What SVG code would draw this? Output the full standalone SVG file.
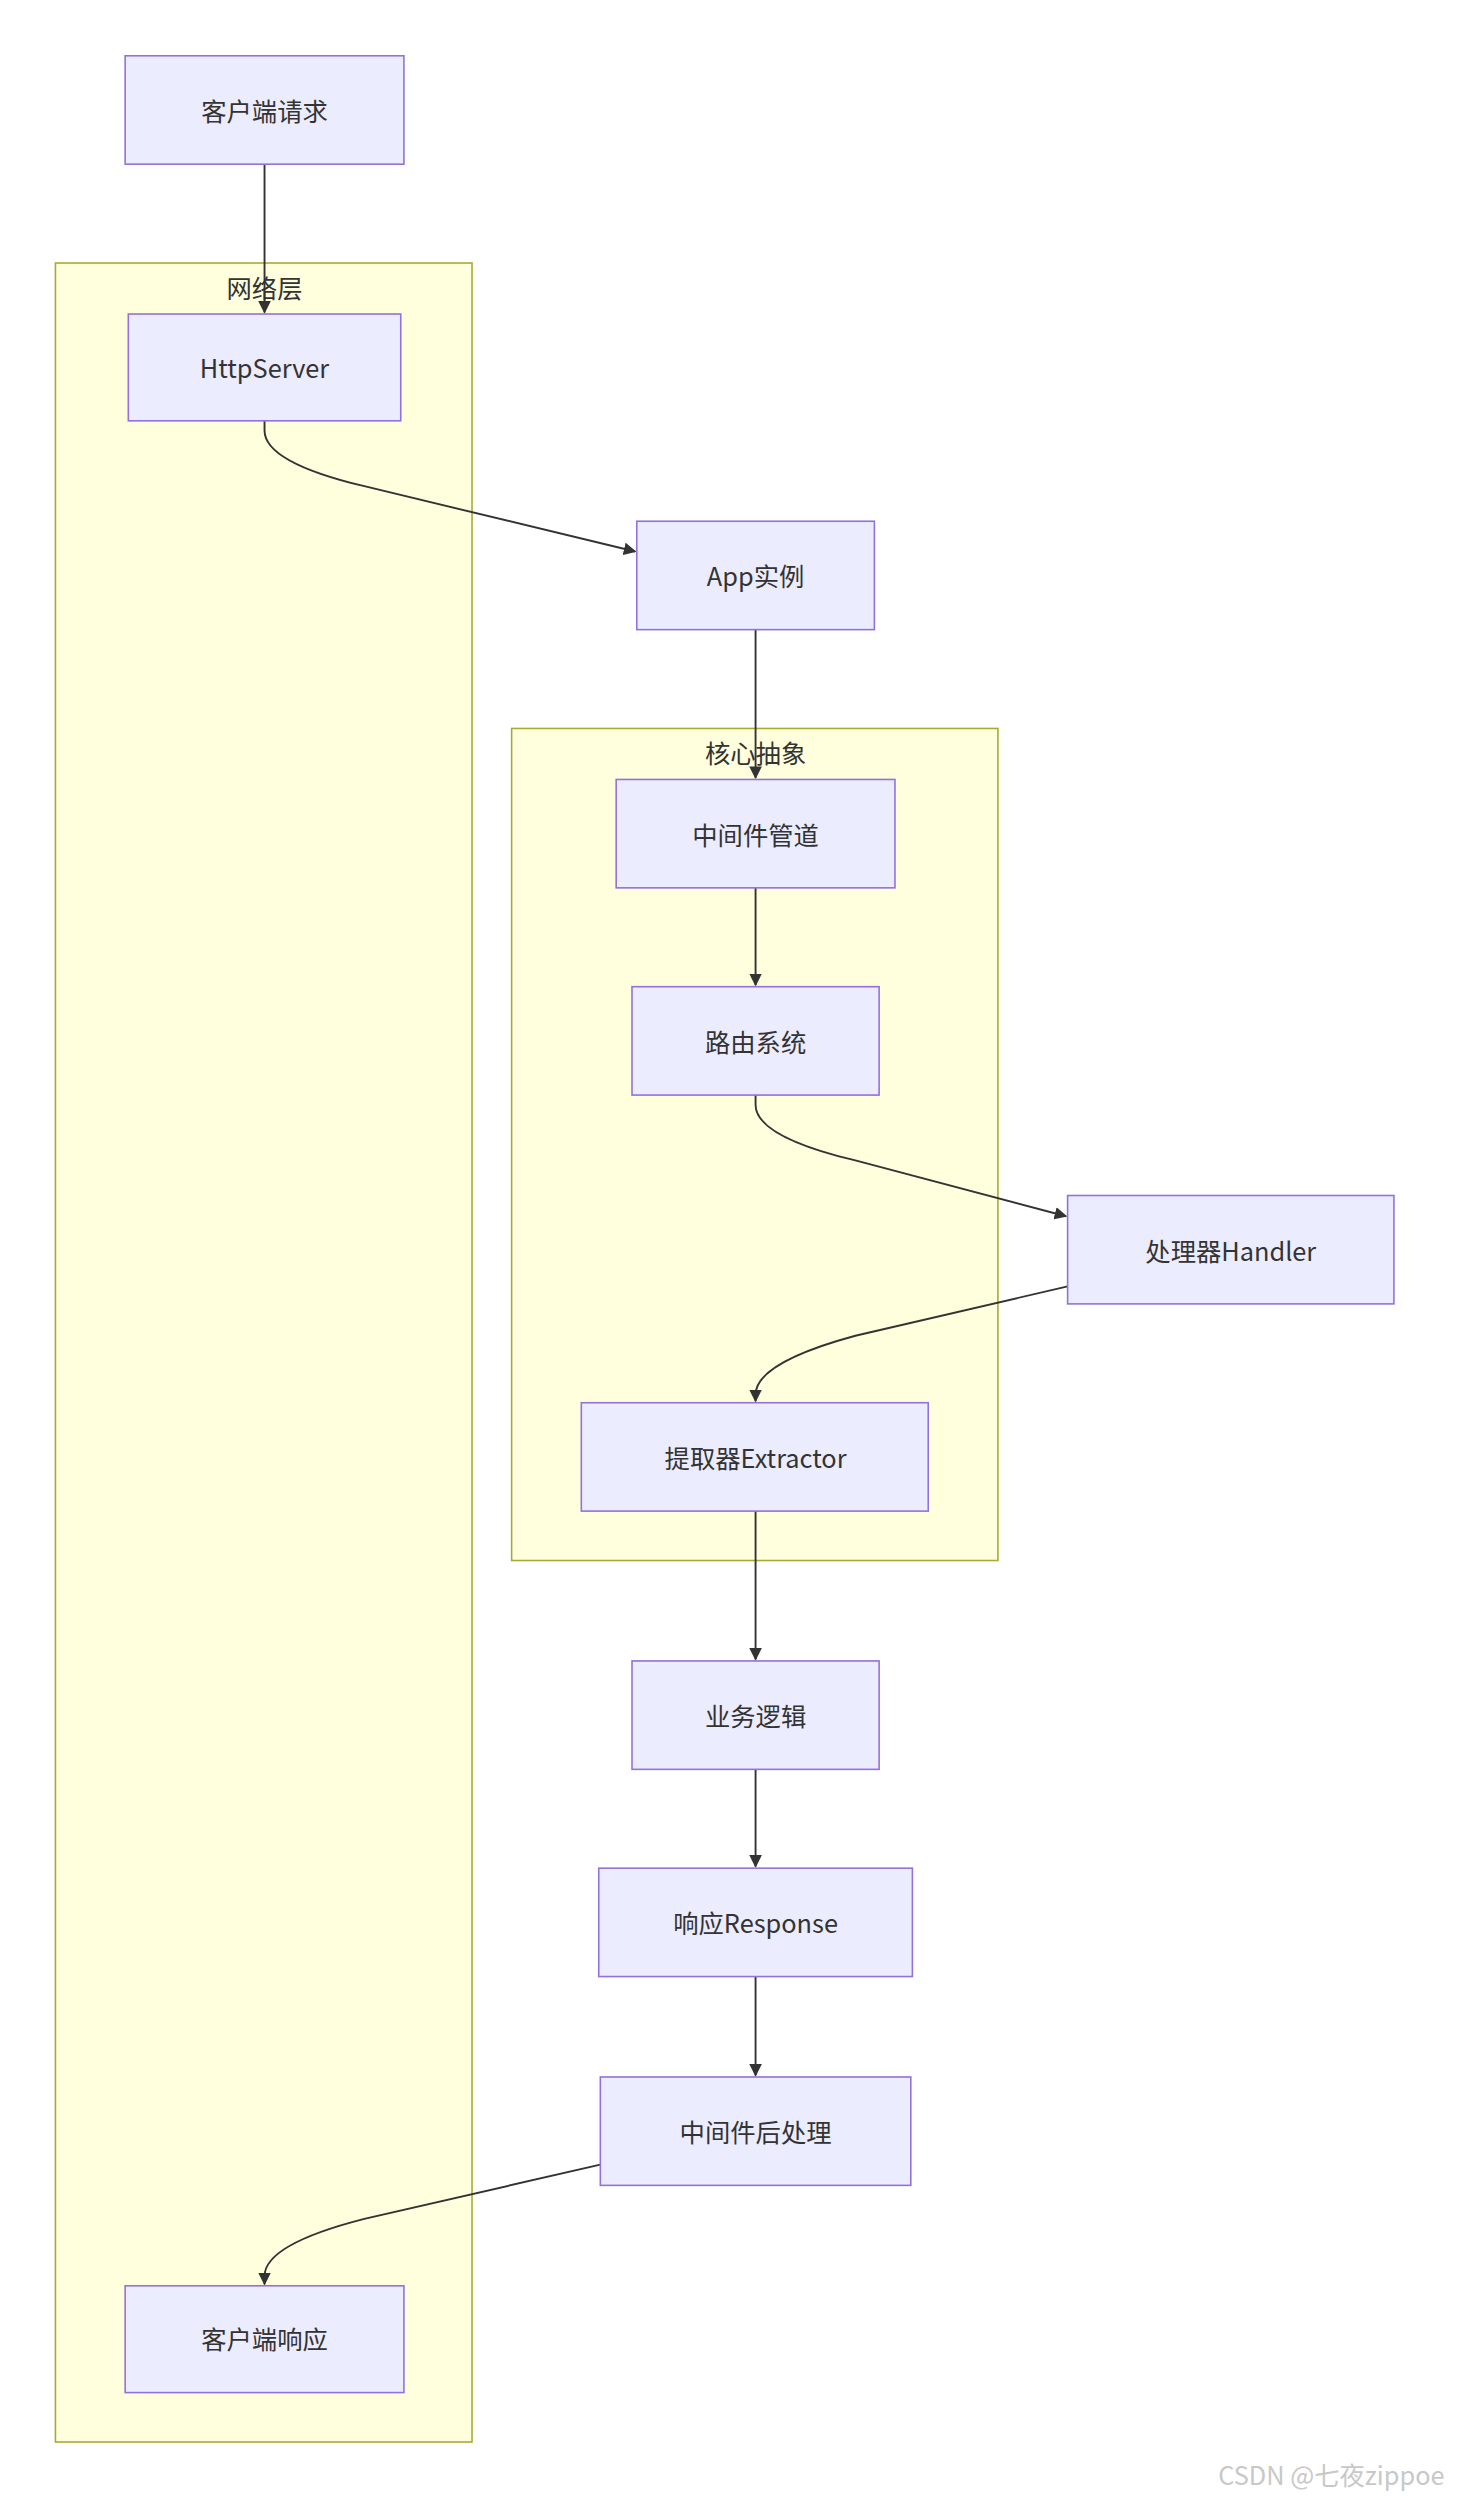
<svg xmlns="http://www.w3.org/2000/svg" width="1459" height="2500" viewBox="0 0 1459 2500">
<defs>
<style>
.n rect{fill:#ECECFF;stroke:#9370DB;stroke-width:1}
.c rect{fill:#FFFFDE;stroke:#AAAA33;stroke-width:1}
text{font-family:"Noto Sans CJK SC","Liberation Sans",sans-serif;font-size:16px;fill:#333;text-anchor:middle;dominant-baseline:central}
.e path{fill:none;stroke:#333;stroke-width:1.2}
</style>
<marker id="a" viewBox="0 0 10 10" refX="9" refY="5" markerWidth="8" markerHeight="8" orient="auto-start-reverse" markerUnits="userSpaceOnUse"><path d="M0,0 L10,5 L0,10 z" fill="#333"/></marker>
</defs>
<rect width="1459" height="2500" fill="#fff"/>
<g transform="scale(1.584,1.594)">
<g id="cluster-net" class="c"><rect x="35" y="165" width="263" height="1367"/><text x="167" y="180">网络层</text></g>
<g id="cluster-core" class="c"><rect x="323" y="457" width="307" height="522"/><text x="477" y="472">核心抽象</text></g>
<g id="edges" class="e">
<path d="M167,103 L167,196" marker-end="url(#a)"/>
<path d="M167,264 L167,270 Q167,290 230,305 L401,346" marker-end="url(#a)"/>
<path d="M477,395 L477,488" marker-end="url(#a)"/>
<path d="M477,557 L477,618" marker-end="url(#a)"/>
<path d="M477,687 L477,693 Q477,713 540,728 L673,763" marker-end="url(#a)"/>
<path d="M674,807 L540,838 Q477,855 477,875 L477,879" marker-end="url(#a)"/>
<path d="M477,948 L477,1041" marker-end="url(#a)"/>
<path d="M477,1110 L477,1171" marker-end="url(#a)"/>
<path d="M477,1240 L477,1302" marker-end="url(#a)"/>
<path d="M379,1358 L230,1392 Q167,1408 167,1428 L167,1433" marker-end="url(#a)"/>
</g>
<g id="req" class="n"><rect x="79" y="35" width="176" height="68"/><text x="167" y="69">客户端请求</text></g>
<g id="http" class="n"><rect x="81" y="197" width="172" height="67"/><text x="167" y="230">HttpServer</text></g>
<g id="app" class="n"><rect x="402" y="327" width="150" height="68"/><text x="477" y="361">App实例</text></g>
<g id="mw" class="n"><rect x="389" y="489" width="176" height="68"/><text x="477" y="523">中间件管道</text></g>
<g id="router" class="n"><rect x="399" y="619" width="156" height="68"/><text x="477" y="653">路由系统</text></g>
<g id="handler" class="n"><rect x="674" y="750" width="206" height="68"/><text x="777" y="784">处理器Handler</text></g>
<g id="extractor" class="n"><rect x="367" y="880" width="219" height="68"/><text x="477" y="914">提取器Extractor</text></g>
<g id="biz" class="n"><rect x="399" y="1042" width="156" height="68"/><text x="477" y="1076">业务逻辑</text></g>
<g id="resp" class="n"><rect x="378" y="1172" width="198" height="68"/><text x="477" y="1206">响应Response</text></g>
<g id="post" class="n"><rect x="379" y="1303" width="196" height="68"/><text x="477" y="1337">中间件后处理</text></g>
<g id="out" class="n"><rect x="79" y="1434" width="176" height="67"/><text x="167" y="1467">客户端响应</text></g>
<text x="912" y="1552" style="text-anchor:end;fill:#c8c8c8;font-size:16px">CSDN @七夜zippoe</text>
</g>
</svg>
